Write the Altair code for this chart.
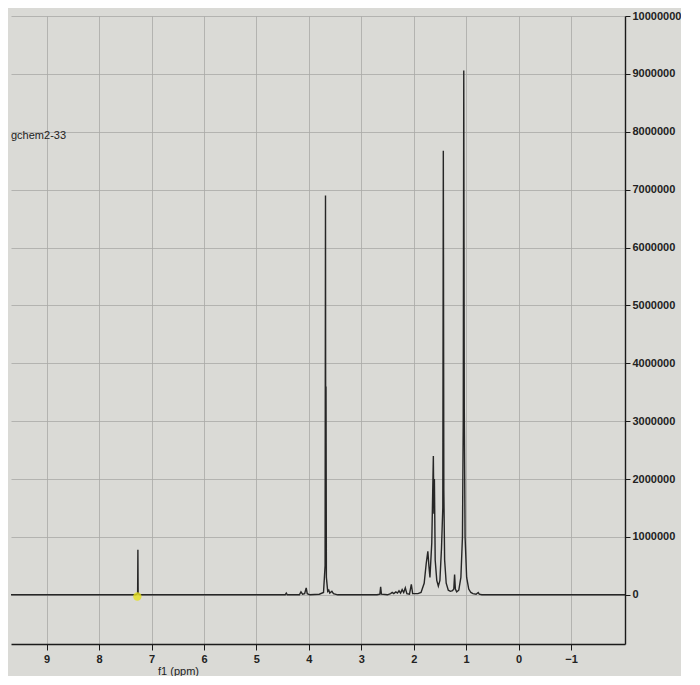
import altair as alt
import pandas as pd

# Spectrum outline (ppm, intensity)
spec_ppm = [9.68, 7.30, 7.265, 7.26, 7.255, 7.22,
            4.45, 4.43, 4.41, 4.18, 4.15, 4.12, 4.08, 4.05, 4.03, 3.98,
            3.80, 3.72, 3.69, 3.682, 3.677, 3.672, 3.665, 3.64, 3.62, 3.60, 3.56, 3.53, 3.45,
            2.70, 2.645, 2.63, 2.615, 2.50, 2.44, 2.41, 2.38, 2.34, 2.31, 2.28, 2.25, 2.22,
            2.19, 2.16, 2.13, 2.08, 2.045, 2.02, 1.92, 1.86, 1.80, 1.76, 1.73, 1.71, 1.69,
            1.655, 1.625, 1.615, 1.605, 1.59, 1.56, 1.53, 1.50, 1.47, 1.445, 1.435, 1.425,
            1.41, 1.38, 1.34, 1.30, 1.26, 1.235, 1.22, 1.205, 1.18, 1.14, 1.10, 1.07, 1.055,
            1.045, 1.035, 1.02, 0.99, 0.95, 0.91, 0.87, 0.81, 0.77, 0.75, 0.70, -2.03]
spec_int = [0, 0, 20000, 780000, 20000, 0,
            0, 30000, 0, 0, 50000, 10000, 20000, 120000, 20000, 0,
            10000, 40000, 500000, 6900000, 1000000, 3600000, 300000, 60000, 80000, 30000, 60000, 20000, 0,
            0, 10000, 140000, 10000, 0, 20000, 40000, 20000, 50000, 30000, 70000, 30000, 90000,
            40000, 120000, 20000, 10000, 180000, 20000, 20000, 40000, 200000, 550000, 750000, 500000, 300000,
            900000, 2400000, 1400000, 2000000, 600000, 250000, 150000, 250000, 800000, 1500000, 7670000, 1800000,
            600000, 200000, 80000, 60000, 70000, 100000, 350000, 100000, 50000, 80000, 300000, 1000000, 3000000,
            9060000, 3200000, 1000000, 300000, 100000, 40000, 20000, 10000, 40000, 10000, 0, 0]

# Yellow highlighter mark on the solvent peak
mark_ppm = [7.27]
mark_int = [-30000]

label_text = ["gchem2-33"]
label_ppm = [9.68]
label_int = [7930000]

x_ticks = [10, 9, 8, 7, 6, 5, 4, 3, 2, 1, 0, -1]
y_ticks = [0, 1000000, 2000000, 3000000, 4000000, 5000000, 6000000, 7000000, 8000000, 9000000, 10000000]

spec = pd.DataFrame({"ppm": spec_ppm, "intensity": spec_int, "order": list(range(len(spec_ppm)))})
marks = pd.DataFrame({"ppm": mark_ppm, "intensity": mark_int})
labels = pd.DataFrame({"ppm": label_ppm, "intensity": label_int, "text": label_text})

xscale = alt.Scale(domain=[-2.03, 9.68], reverse=True, nice=False, zero=False)
yscale = alt.Scale(domain=[-850000, 10000000], nice=False, zero=False)

FONT = "Liberation Sans"

xaxis = alt.Axis(values=x_ticks, format="d", title="f1 (ppm)", titleX=167, titleAlign="center",
                 titleFontSize=11, titleFontWeight="normal", titleFont=FONT, titleColor="#222222",
                 titlePadding=1, labelFont=FONT, labelFontSize=11, labelFontWeight="bold",
                 labelColor="#222222", domainColor="#1a1a1a", domainWidth=1.4, tickColor="#1a1a1a",
                 tickSize=6, grid=True, gridColor="#a8a8a6", gridWidth=0.8, labelPadding=3)
yaxis = alt.Axis(values=y_ticks, format="d", orient="right", title=None, labelFont=FONT,
                 labelFontSize=11, labelFontWeight="bold", labelColor="#222222",
                 domainColor="#1a1a1a", domainWidth=1.4, tickColor="#1a1a1a", tickSize=5,
                 grid=True, gridColor="#a8a8a6", gridWidth=0.8, labelPadding=2)

line = alt.Chart(spec).mark_line(color="#262626", strokeWidth=1.4).encode(
    x=alt.X("ppm:Q", scale=xscale, axis=xaxis),
    y=alt.Y("intensity:Q", scale=yscale, axis=yaxis),
    order="order:Q",
)

hl = alt.Chart(marks).mark_point(shape="circle", filled=True, color="#e6e01e", opacity=0.8, size=70).encode(
    x=alt.X("ppm:Q", scale=xscale),
    y=alt.Y("intensity:Q", scale=yscale),
)

txt = alt.Chart(labels).mark_text(align="left", baseline="middle", font=FONT, fontSize=11,
                                  color="#222222", dx=0).encode(
    x=alt.X("ppm:Q", scale=xscale),
    y=alt.Y("intensity:Q", scale=yscale),
    text="text:N",
)

chart = alt.layer(line, hl, txt).properties(
    width=614, height=628, padding={"left": 0, "top": 2, "right": 0, "bottom": 0}
).configure(background="#dadad6").configure_view(fill="#dadad6", stroke=None)

chart.save("out.html", embed_options={"renderer": "svg", "actions": False})
